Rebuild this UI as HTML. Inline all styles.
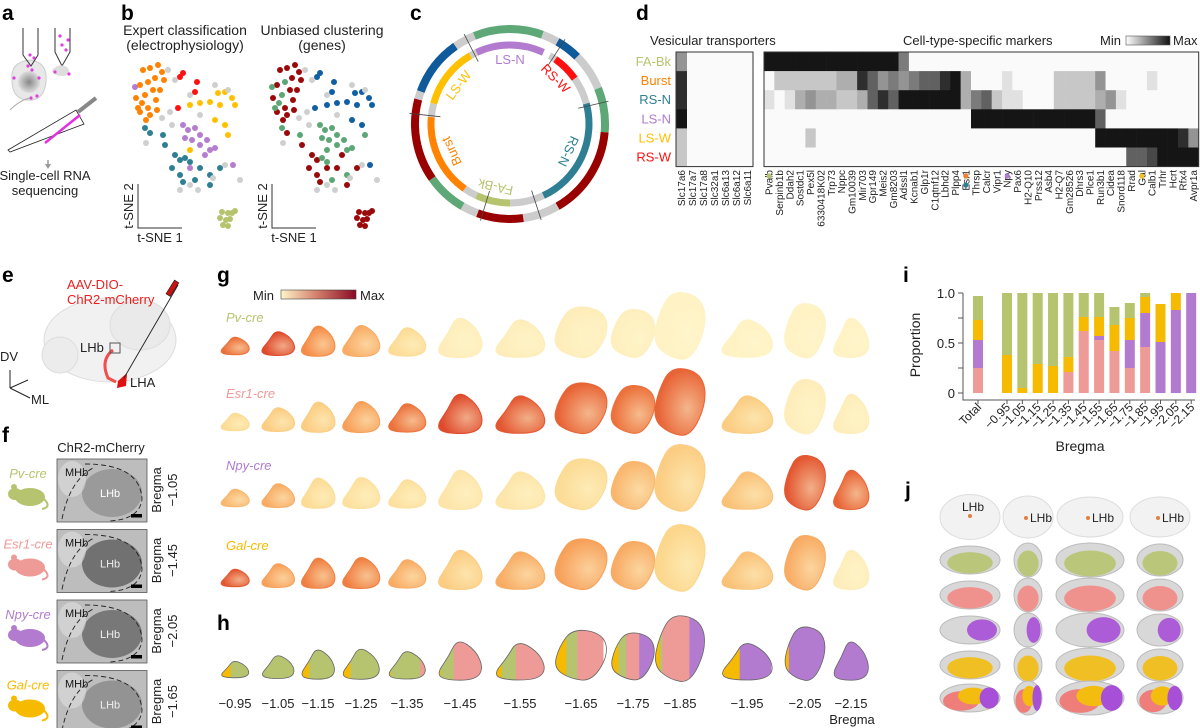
<!DOCTYPE html>
<html><head><meta charset="utf-8"><style>
html,body{margin:0;padding:0;background:#fff}
svg{display:block;font-family:"Liberation Sans",sans-serif}
.pl{font-weight:bold;font-size:21px;fill:#000}
.t{font-size:13px;fill:#222}
.s{font-size:10px;fill:#222}
</style></head><body>
<svg id="fig" width="1200" height="728" viewBox="0 0 1200 728" xmlns="http://www.w3.org/2000/svg">
<defs>
<radialGradient id="cellg"><stop offset="0" stop-color="#888"/><stop offset="1" stop-color="#ddd"/></radialGradient>
<linearGradient id="hmleg"><stop offset="0" stop-color="#fff"/><stop offset="1" stop-color="#111"/></linearGradient>
<linearGradient id="gleg"><stop offset="0" stop-color="#fff5c8"/><stop offset="0.5" stop-color="#d07a68"/><stop offset="1" stop-color="#8a0a25"/></linearGradient>
<radialGradient id="sheen" cx="0.65" cy="0.6" r="0.6"><stop offset="0" stop-color="#fff8d0" stop-opacity="0.55"/><stop offset="1" stop-color="#fff8d0" stop-opacity="0"/></radialGradient>
</defs>

<!-- panel labels -->
<text class="pl" x="2" y="20">a</text>
<text class="pl" x="121" y="20">b</text>
<text class="pl" x="410" y="20">c</text>
<text class="pl" x="636" y="20">d</text>
<text class="pl" x="2" y="282">e</text>
<text class="pl" x="2" y="442">f</text>
<text class="pl" x="217" y="282">g</text>
<text class="pl" x="217" y="630">h</text>
<text class="pl" x="903" y="282">i</text>
<text class="pl" x="905" y="497">j</text>

<!-- panel a -->
<g>
<path d="M12,80 Q10,62 30,60 Q48,62 46,82 Q44,102 26,100 Q12,98 12,80Z" fill="#e8e8e8" stroke="#ccc"/>
<circle cx="29" cy="82" r="11" fill="url(#cellg)"/>
<path d="M23,28 L23,55 L31,66 L38,55 L38,28" fill="none" stroke="#333" stroke-width="1"/>
<path d="M55,28 L55,52 L62,66 L70,52 L70,28" fill="none" stroke="#333" stroke-width="1"/>
<path d="M52,70 Q60,62 68,68 Q72,76 62,76 Q54,76 52,70Z" fill="#ddd"/>
<g fill="#e040e0">
<circle cx="30" cy="55" r="1.6"/><circle cx="34" cy="58" r="1.6"/><circle cx="28" cy="66" r="1.6"/><circle cx="32" cy="70" r="1.6"/><circle cx="14" cy="78" r="1.6"/><circle cx="39" cy="78" r="1.6"/><circle cx="31" cy="98" r="1.6"/><circle cx="37" cy="96" r="1.6"/><circle cx="60" cy="36" r="1.6"/><circle cx="62" cy="45" r="1.6"/><circle cx="68" cy="40" r="1.6"/><circle cx="66" cy="50" r="1.6"/><circle cx="55" cy="72" r="1.6"/><circle cx="69" cy="74" r="1.6"/>
</g>
<path d="M10,110 Q20,100 30,98" fill="none" stroke="#aaa"/>
<path d="M8,150 L76,110 L84,124 L10,152 Z" fill="none" stroke="#222" stroke-width="0.8"/>
<path d="M45,143 L80,115" stroke="#e030e0" stroke-width="2.5"/>
<path d="M78,112 L96,98" stroke="#888" stroke-width="4" />
<path d="M48,160 L48,168" stroke="#999" stroke-width="1.5"/><path d="M45,164 L48,169 L51,164" fill="#999"/>
<text class="t" x="45" y="180" text-anchor="middle">Single-cell RNA</text>
<text class="t" x="45" y="195" text-anchor="middle">sequencing</text>
</g>

<!-- panel b -->
<text x="185" y="35" font-size="14" fill="#222" text-anchor="middle">Expert classification</text>
<text x="185" y="50" font-size="14" fill="#222" text-anchor="middle">(electrophysiology)</text>
<text x="322" y="35" font-size="14" fill="#222" text-anchor="middle">Unbiased clustering</text>
<text x="322" y="50" font-size="14" fill="#222" text-anchor="middle">(genes)</text>
<g id="tsneL"></g>
<g id="tsneR"></g>
<g stroke="#333" fill="none">
<path d="M138,184 L138,228 L182,228"/><path d="M272,184 L272,228 L316,228"/>
</g>
<text class="t" x="160" y="242" text-anchor="middle">t-SNE 1</text>
<text class="t" x="294" y="242" text-anchor="middle">t-SNE 1</text>
<text class="t" transform="translate(133,206) rotate(-90)" text-anchor="middle">t-SNE 2</text>
<text class="t" transform="translate(267,206) rotate(-90)" text-anchor="middle">t-SNE 2</text>

<!-- panel c -->
<g id="ring"></g>

<!-- panel d -->
<text class="t" x="650" y="45">Vesicular transporters</text>
<text class="t" x="903" y="45">Cell-type-specific markers</text>
<text class="t" x="1100" y="45">Min</text>
<rect x="1126" y="36" width="44" height="9" fill="url(#hmleg)" stroke="#555" stroke-width="0.6"/>
<text class="t" x="1173" y="45">Max</text>
<g id="hm"></g>

<!-- panel e -->
<g>
<ellipse cx="110" cy="340" rx="66" ry="42" fill="#f1f1f1" stroke="#ddd"/>
<ellipse cx="140" cy="325" rx="30" ry="25" fill="#eaeaea" stroke="#ddd"/>
<ellipse cx="60" cy="355" rx="18" ry="18" fill="#ececec" stroke="#ddd"/>
<path d="M113,350 Q100,360 108,378 L116,382" fill="none" stroke="#f05050" stroke-width="3"/>
<rect x="110" y="343" width="10" height="10" fill="none" stroke="#555"/>
<path d="M118,381 L127,373 L126,386 L117,388Z" fill="#e01010"/>
<path d="M124,378 L178,285" stroke="#222" stroke-width="0.9"/>
<rect x="170" y="280" width="5" height="16" fill="#d01010" stroke="#222" stroke-width="0.7" transform="rotate(32 172 288)"/>
<path d="M10,388 L10,370 M10,388 L28,380 M10,388 L30,398" stroke="#222" fill="none"/>
</g>
<text x="67" y="289" font-size="13" fill="#e82020">AAV-DIO-</text>
<text x="67" y="304" font-size="13" fill="#e82020">ChR2-mCherry</text>
<text class="t" x="80" y="352">LHb</text>
<text class="t" x="130" y="387">LHA</text>
<text class="t" x="0" y="361">DV</text>
<text class="t" x="31" y="404">ML</text>

<!-- panel f -->
<text class="t" x="101" y="452" text-anchor="middle">ChR2-mCherry</text>
<g id="fpanel"></g>

<!-- panel g -->
<text class="t" x="253" y="300">Min</text>
<rect x="281" y="290" width="75" height="9" fill="url(#gleg)" stroke="#444" stroke-width="0.6"/>
<text class="t" x="360" y="300">Max</text>
<g id="gpanel"></g>
<g id="hpanel"></g>

<!-- panel i -->
<g id="ichart"></g>

<!-- panel j -->
<g id="jpanel"></g>
</svg>

<script>
const NS='http://www.w3.org/2000/svg';
function mk(tag,attrs,parent){const e=document.createElementNS(NS,tag);for(const k in attrs)e.setAttribute(k,attrs[k]);if(parent)parent.appendChild(e);return e;}

// ---------- panel i data ----------
const iCategories=['Total','\u22120.95','\u22121.05','\u22121.15','\u22121.25','\u22121.35','\u22121.45','\u22121.55','\u22121.65','\u22121.75','\u22121.85','\u22121.95','\u22122.05','\u22122.15'];
const iEsr1=[0.25,0,0,0,0,0.21,0.62,0.53,0.42,0.25,0.46,0,0,0];
const iNpy=[0.28,0,0,0,0,0,0,0.04,0,0.28,0.34,0.51,0.83,1.0];
const iGal=[0.20,0.38,0.05,0.29,0.27,0.15,0.14,0.19,0.26,0.22,0.16,0.38,0.17,0];
const iPv=[0.24,0.62,0.95,0.71,0.73,0.64,0.24,0.24,0.18,0.15,0.04,0,0,0];
const iTicks=[0,0.5,1.0];
const iTickLabels=['0','0.5','1.0'];
const COL={esr1:'#ee9a97',npy:'#b27bcf',gal:'#f6bb00',pv:'#b7c46f'};

(function(){
  const g=document.getElementById('ichart');
  const y=v=>393-v*100;
  const x=i=>i===0?978:1007+(i-1)*15.35;
  mk('path',{d:'M963,293 L963,400 L1195,400',fill:'none',stroke:'#555','stroke-width':1},g);
  iTicks.forEach((t,k)=>{
    mk('line',{x1:958,x2:963,y1:y(t),y2:y(t),stroke:'#555'},g);
    const tx=mk('text',{x:955,y:y(t)+5,'text-anchor':'end','font-size':13,fill:'#222'},g);tx.textContent=iTickLabels[k];
    
    
  });
  mk('line',{x1:958,x2:963,y1:y(0.25),y2:y(0.25),stroke:'#555'},g);
  mk('line',{x1:958,x2:963,y1:y(0.75),y2:y(0.75),stroke:'#555'},g);
  const yl=mk('text',{transform:'translate(920,345) rotate(-90)','text-anchor':'middle','font-size':14,fill:'#222'},g);yl.textContent='Proportion';
  
  
  const xl=mk('text',{x:1080,y:451,'text-anchor':'middle','font-size':14,fill:'#222'},g);xl.textContent='Bregma';
  
  
  iCategories.forEach((c,i)=>{
    let base=0;
    [[iEsr1,COL.esr1],[iNpy,COL.npy],[iGal,COL.gal],[iPv,COL.pv]].forEach(([arr,col])=>{
      const v=arr[i];if(v<=0)return;
      const r=mk('rect',{x:x(i)-5,y:y(base+v),width:10,height:v*100,fill:col},g);
      
      
      base+=v;
    });
    mk('line',{x1:x(i),x2:x(i),y1:400,y2:404,stroke:'#555'},g);
    const t=mk('text',{transform:`translate(${x(i)+4},${408}) rotate(-45)`,'text-anchor':'end','font-size':12,fill:'#222'},g);t.textContent=c;
    
    
  });
})();

// ---------- panel b data (t-SNE) ----------
const tsneX=[143,150,158,162,155,148,140,136,142,148,140,150,156,160,164,145,153,138,146,157, 180,183,197,195,178, 190,200,210,218,225,232,235,220,215,225,228,190, 183,188,195,185,192,200,200,207,210,215,205,135,233,190, 145,150,163,165,175,180,185,172,180,190,200,210,220,183,195,210, 168,175,190,170,162,146,172,215,228,200,190,225,198,240,180,213, 222,228,232,220,226,230,223,228,235];
const tsneY=[70,68,65,72,78,82,85,98,103,108,112,115,100,90,80,95,90,108,120,110, 77,73,82,92,108, 105,103,102,93,92,98,105,105,120,125,135,150, 125,130,128,138,140,135,145,140,150,148,155,87,165,168, 128,133,135,145,155,160,158,168,175,162,168,175,168,182,180,185, 70,80,95,112,118,143,125,85,90,115,185,165,190,180,190,178, 212,213,213,218,220,219,225,226,211];
const tsneExpert='OOOOOOOOOOOOOOOOOOOORRRRRYYYYYYYYYYYYPPPPPPPPPPPPPPTTTTTTTTTTTTTTTTGGGGGGGGGGGGGGGGLLLLLLLLL';
const tsneGene='DDDDDNDDNDDDDDDNDNDDBBBBBBBBBBBBBBBNNNNNNNNNNNNDNBDNDNDDDNDDNDNDDNDGGGGGGGGGGGGGGGGDDDDDDDDD';
const EXPCOL={O:'#ff8200',R:'#ff1010',Y:'#ffc000',P:'#b47dd0',T:'#2f7f94',G:'#cfcfcf',L:'#b5c46c'};
const GENECOL={D:'#9b0a0a',B:'#0f5fa5',N:'#5da676',G:'#cfcfcf'};
(function(){
  const L=document.getElementById('tsneL'),R=document.getElementById('tsneR');
  tsneX.forEach((px,i)=>{
    const a=mk('circle',{cx:px,cy:tsneY[i],r:3,fill:EXPCOL[tsneExpert[i]]},L);
    
    
    const b=mk('circle',{cx:px+137,cy:tsneY[i],r:3,fill:GENECOL[tsneGene[i]]},R);
    
    
  });
})();

// ---------- panel c ring ----------
const outerSegStart=[-22,20,30,45,68,95,150,172,200,210,235,285,290,325];
const outerSegEnd=[20,30,45,68,95,150,172,200,210,235,285,290,325,338];
const outerSegCol=['#5ea777','#cccccc','#0f5a9a','#cccccc','#5ea777','#990000','#cccccc','#990000','#cccccc','#5ea777','#990000','#cccccc','#0f5a9a','#cccccc'];
const innerSegStart=[-25,30,35,55,75,155,180,205,215,275,285,330];
const innerSegEnd=[25,35,55,75,155,180,205,215,275,285,330,335];
const innerSegCol=['#b27bcf','#cccccc','#ff1010','#cccccc','#2f7f94','#cccccc','#b7c46f','#cccccc','#ff8200','#cccccc','#ffc000','#cccccc'];
(function(){
  const g=document.getElementById('ring');const cx=510,cy=124;
  const pt=(r,a)=>{const t=(a-90)*Math.PI/180;return [cx+r*Math.cos(t),cy+r*Math.sin(t)];};
  const arc=(r,a0,a1)=>{const p=pt(r,a0),q=pt(r,a1);return `M${p[0]},${p[1]} A${r},${r} 0 ${a1-a0>180?1:0} 1 ${q[0]},${q[1]}`;};
  outerSegStart.forEach((a,i)=>{const p=mk('path',{d:arc(95,a,outerSegEnd[i]),stroke:outerSegCol[i],'stroke-width':8,fill:'none'},g);
    
    });
  innerSegStart.forEach((a,i)=>{const p=mk('path',{d:arc(79,a,innerSegEnd[i]),stroke:innerSegCol[i],'stroke-width':7,fill:'none'},g);
    
    });
  [-27,33,77,162,197,276].forEach(a=>{const p=pt(70,a),q=pt(101,a);mk('line',{x1:p[0],y1:p[1],x2:q[0],y2:q[1],stroke:'#444','stroke-width':0.8},g);});
  const labs=[['LS-N',0,'#b27bcf'],['RS-W',45,'#ff1010'],['RS-N',115,'#2f7f94'],['FA-Bk',193,'#b7c46f'],['Burst',245,'#ff8200'],['LS-W',307,'#ffc000']];
  labs.forEach(([s,a,c])=>{const p=pt(65,a);const t=mk('text',{x:0,y:0,'text-anchor':'middle','font-size':13,fill:c,transform:`translate(${p[0]},${p[1]}) rotate(${a}) translate(0,5)`},g);t.textContent=s;
    
    });
})();

// ---------- panel d heatmap ----------
const hmRows=['FA-Bk','Burst','RS-N','LS-N','LS-W','RS-W'];
const hmRowCol=['#b7c46f','#ff8200','#2f7f94','#b27bcf','#ffc000','#ff1010'];
const vesGenes=['Slc17a6','Slc17a7','Slc17a8','Slc32a1','Slc6a13','Slc6a12','Slc6a11'];
const vesVals=['4000000','8000000','8000000','9000000','2000000','2000000'];
const mkGenes=['Pvalb','Serpinb1b','Ddah2','Sostdc1','Pex5l','6330418K02','Trp73','Nppc','Gm10039','Mir703','Gpr149','Meis2','Gm8203','Adssl1','Kcnab1','Glp1r','C1qtnf12','Lbhd2','Plpp4','Esr1','Thrsp','Calcr','Vipr1','Npy','Pax6','H2-Q10','Prss12','Asb4','H2-Q7','Gm28526','Dhrs3','Plce1','Run3b1','Cidea','Snord118','Rrad','Gal','Calb1','Trhr','Hcrt','Rfx4','Avpr1a'];
const mkVals=[
'999999999999950000000000000000000000000000',
'022222233864545668930001000022224000010000',
'101343322368699999935621100022223410000000',
'000000000000000000009999999999996000000000',
'000020000000000000000000000000009999999984',
'000000000000000000000000000000000006679999'];
(function(){
  const g=document.getElementById('hm');
  const shade=v=>{const l=Math.round(250-v*25.5);return `rgb(${l},${l},${l})`;};
  const top=52,rh=19.1;
  hmRows.forEach((r,i)=>{const t=mk('text',{x:671,y:top+rh*i+14,'text-anchor':'end','font-size':13,fill:hmRowCol[i]},g);t.textContent=r;
    
    });
  const draw=(x0,cw,genes,vals)=>{
    vals.forEach((row,i)=>{for(let j=0;j<genes.length;j++){const c=mk('rect',{x:x0+j*cw,y:top+rh*i,width:cw+0.3,height:rh+0.3,fill:shade(+row[j])},g);
      
      }});
    mk('rect',{x:x0,y:top,width:cw*genes.length,height:rh*6,fill:'none',stroke:'#333','stroke-width':1},g);
    genes.forEach((s,j)=>{const t=mk('text',{transform:`translate(${x0+j*cw+cw/2+3.5},170) rotate(-90)`,'text-anchor':'end','font-size':10,fill:'#222'},g);t.textContent=s;
      
      });
  };
  draw(676,11,vesGenes,vesVals);
  draw(764,10.35,mkGenes,mkVals);
  [[0,'#b7c46f',176],[19,'#f08030',176],[19,'#2f7f94',185],[23,'#b27bcf',176],[36,'#f0c020',176]].forEach(([j,c,yy])=>mk('circle',{cx:764+j*10.35+5.2,cy:yy,r:2.6,fill:c},g));
})();

// ---------- panel f ----------
const fLines=['Pv-cre','Esr1-cre','Npy-cre','Gal-cre'];
const fCols=['#b7c46f','#ee9a97','#b27bcf','#f6bb00'];
const fBregma=['\u22121.05','\u22121.45','\u22122.05','\u22121.65'];
const fDark=[0.25,0.55,0.5,0.3];
(function(){
  const g=document.getElementById('fpanel');
  fLines.forEach((s,i)=>{
    const y0=459+i*70.5;
    const t=mk('text',{x:28,y:y0+19,'text-anchor':'middle','font-size':13,'font-style':'italic',fill:fCols[i]},g);t.textContent=s;
    
    
    const m=mk('g',{fill:fCols[i]},g);
    mk('ellipse',{cx:30,cy:y0+38,rx:15,ry:9},m);mk('ellipse',{cx:15,cy:y0+35,rx:7,ry:6},m);
    mk('circle',{cx:14,cy:y0+28,r:3},m);mk('path',{d:`M44,${y0+40} Q52,${y0+48} 42,${y0+50}`,stroke:fCols[i],'stroke-width':2,fill:'none'},m);
    const r=mk('rect',{x:57,y:y0,width:90,height:63,fill:'#bdbdbd',stroke:'#555','stroke-width':0.8},g);
    
    
    mk('ellipse',{cx:112,cy:y0+34,rx:30,ry:24,fill:'#333',opacity:fDark[i]},g);
    mk('ellipse',{cx:72,cy:y0+20,rx:14,ry:18,fill:'#ddd',opacity:0.6},g);
    mk('path',{d:`M62,${y0+60} Q70,${y0+20} 95,${y0+8} M85,${y0+5} Q140,${y0+5} 142,${y0+40} Q140,${y0+60} 110,${y0+62}`,fill:'none',stroke:'#222','stroke-dasharray':'5 3','stroke-width':0.9},g);
    mk('text',{x:65,y:y0+17,'font-size':11,fill:'#111'},g).textContent='MHb';
    mk('text',{x:100,y:y0+38,'font-size':11,fill:i==0?'#fff':'#eee'},g).textContent='LHb';
    mk('rect',{x:131,y:y0+55,width:11,height:3.5,fill:'#000'},g);
    const b=mk('text',{transform:`translate(161,${y0+31}) rotate(-90)`,'text-anchor':'middle','font-size':13,fill:'#222'},g);b.textContent='Bregma';
    const b2=mk('text',{transform:`translate(177,${y0+31}) rotate(-90)`,'text-anchor':'middle','font-size':13,fill:'#222'},g);b2.textContent=fBregma[i];
    
    
  });
})();

// ---------- panels g, h ----------
const gBregma=['\u22120.95','\u22121.05','\u22121.15','\u22121.25','\u22121.35','\u22121.45','\u22121.55','\u22121.65','\u22121.75','\u22121.85','\u22121.95','\u22122.05','\u22122.15'];
const gRowNames=['Pv-cre','Esr1-cre','Npy-cre','Gal-cre'];
const gPv=[0.8,0.95,0.7,0.55,0.3,0.1,0.1,0.1,0.08,0.05,0.05,0.05,0.05];
const gEsr1=[0.3,0.4,0.4,0.6,0.8,0.95,0.9,0.85,0.8,0.85,0.4,0.1,0.1];
const gNpy=[0.5,0.55,0.3,0.25,0.25,0.2,0.2,0.3,0.5,0.4,0.45,0.9,0.85];
const gGal=[0.9,0.6,0.75,0.75,0.55,0.4,0.55,0.6,0.55,0.35,0.45,0.55,0.1];
(function(){
  const cxs=[235,278,318,361,407,460,520,581,633,680,747,805,851];
  const ws=[30,35,36,40,40,47,53,55,46,53,55,43,38];
  const hs=[18,25,32,33,30,42,40,53,50,70,40,57,42];
  const tpl=[[0,0.85],[0.25,0.45],[0.45,0],[0.85,0.3],[1,0.75],[0.8,1],[0.2,1]];
  const tplTall=[[0,0.75],[0.1,0.35],[0.35,0],[0.9,0.1],[1,0.5],[0.7,1],[0.3,0.95]];
  const shape=(i,bottom)=>{const w=ws[i],h=hs[i],t=h>45?tplTall:tpl;const x0=cxs[i]-w/2,y0=bottom-h;
    const P=t.map(([a,b])=>[x0+a*w,y0+b*h]);const n=P.length;
    const mid=k=>{const a=P[k%n],b=P[(k+1)%n];return [(a[0]+b[0])/2,(a[1]+b[1])/2];};
    let d=`M${mid(0)[0].toFixed(1)},${mid(0)[1].toFixed(1)}`;
    for(let k=1;k<=n;k++){const c=P[k%n],m=mid(k);d+=` Q${c[0].toFixed(1)},${c[1].toFixed(1)} ${m[0].toFixed(1)},${m[1].toFixed(1)}`;}
    return d+'Z';};
  const cmap=v=>{const stops=[[255,246,205],[252,215,140],[245,140,70],[215,50,35],[150,10,35]];const p=Math.min(0.999,v)*4,k=Math.floor(p),f=p-k;const a=stops[k],b=stops[k+1];return `rgb(${a.map((c,j)=>Math.round(c+(b[j]-c)*f)).join(',')})`;};
  const g=document.getElementById('gpanel');
  const rows=[gPv,gEsr1,gNpy,gGal];const bases=[352,428,504,584];const labY=[322,398,470,550];
  const rc=['#b7c46f','#ee9a97','#b27bcf','#f6bb00'];
  rows.forEach((arr,r)=>{
    const t=mk('text',{x:226,y:labY[r],'font-size':13,'font-style':'italic',fill:rc[r]},g);t.textContent=gRowNames[r];
    
    
    arr.forEach((v,i)=>{
      const bt=bases[r]+hs[i]*0.12;
      const p=mk('path',{d:shape(i,bt),fill:cmap(v*0.72),stroke:cmap(v*0.72),'stroke-width':2,'stroke-linejoin':'round'},g);
      
      
      mk('path',{d:shape(i,bt),fill:'url(#sheen)'},g);
    });
  });
  const h=document.getElementById('hpanel');
  gBregma.forEach((s,i)=>{
    const bt=676+hs[i]*0.1, pts=shape(i,bt);
    const cp=mk('clipPath',{id:'hc'+i},h);mk('path',{d:pts},cp);
    const grp=mk('g',{'clip-path':`url(#hc${i})`},h);
    const w=ws[i]+6,x0=cxs[i]-w/2;let acc=0;
    [[iGal,COL.gal],[iPv,COL.pv],[iEsr1,COL.esr1],[iNpy,COL.npy]].forEach(([arr,c])=>{const v=arr[i+1];if(v<=0)return;
      const r=mk('rect',{x:x0+acc*w,y:bt-hs[i]-4,width:v*w+0.5,height:hs[i]+8,fill:c},grp);
      
      
      acc+=v;});
    mk('path',{d:pts,fill:'none',stroke:'#666','stroke-width':0.8},h);
    const t=mk('text',{x:cxs[i],y:708,'text-anchor':'middle','font-size':13,fill:'#222'},h);t.textContent=s;
    
    
  });
  mk('text',{x:852,y:724,'text-anchor':'middle','font-size':13,fill:'#222'},h).textContent='Bregma';
})();

// ---------- panel j ----------
(function(){
  const g=document.getElementById('jpanel');
  const cx=[970,1028,1090,1160];const rowY=[560,595,630,665,698];
  const sz=[[60,28],[28,34],[68,34],[46,32]];
  const rc=['#b7c46f','#f28b86','#a84fd8','#f3bd10',null];
  const brains=[[60,45],[50,42],[66,40],[60,40]];
  cx.forEach((x,c)=>{
    mk('ellipse',{cx:x,cy:517,rx:brains[c][0]/2,ry:brains[c][1]/2,fill:'#f2f2f2',stroke:'#ddd'},g);
    const t=mk('text',{x:x+(c==0?-8:2),y:c==0?511:522,'font-size':12,fill:'#222'},g);t.textContent='LHb';
    mk('circle',{cx:c==0?x:x-2,cy:c==0?516:518,r:2,fill:'#e08040'},g);
    rowY.forEach((y,r)=>{
      const [w,h]=sz[c];
      mk('ellipse',{cx:x,cy:y,rx:w/2,ry:h/2,fill:'#d8d8d8',stroke:'#bbb'},g);
      if(rc[r]){mk('ellipse',{cx:x+(r==2?w*0.2:0),cy:y+(r==2?0:h*0.1),rx:w*(r==2?0.25:0.38),ry:h*0.38,fill:rc[r],opacity:0.9},g);}
      else{mk('ellipse',{cx:x-w*0.15,cy:y+3,rx:w*0.3,ry:h*0.35,fill:'#ef7e7a'},g);mk('ellipse',{cx:x+w*0.05,cy:y-2,rx:w*0.25,ry:h*0.3,fill:'#f3bd10'},g);mk('ellipse',{cx:x+w*0.32,cy:y,rx:w*0.16,ry:h*0.38,fill:'#a84fd8'},g);}
    });
  });
})();
</script>
</body></html>
